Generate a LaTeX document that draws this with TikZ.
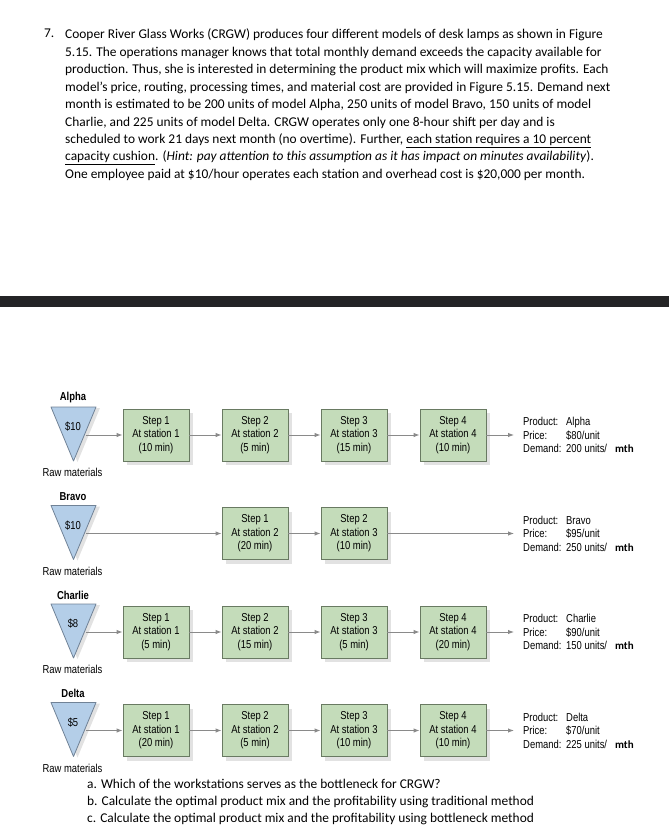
\documentclass[tikz,border=0pt]{standalone}
\usepackage{fontspec}
\setmainfont{Carlito}
\newfontfamily\narrowfont[FakeStretch=0.82]{Liberation Sans}
\usepackage{tikz}
\usetikzlibrary{arrows.meta, positioning, shadows}
\definecolor{boxfill}{RGB}{196,220,186}
\definecolor{boxline}{RGB}{105,122,98}
\definecolor{trifill}{RGB}{180,206,232}
\definecolor{triline}{RGB}{112,130,150}
\definecolor{shadowgray}{RGB}{226,226,226}
\definecolor{flowgray}{RGB}{138,138,138}
\definecolor{barcolor}{RGB}{36,36,38}

\begin{document}
\begin{tikzpicture}[x=1pt, y=-1pt,
    para/.style={inner sep=0pt, align=left, font=\fontsize{13.4}{17.4}\selectfont},
    stepbox/.style={draw=boxline, fill=boxfill, line width=0.8pt, minimum width=66pt, minimum height=52pt,
        inner sep=0pt, align=center, font=\narrowfont\fontsize{11.5}{13.5}\selectfont,
        general shadow={fill=shadowgray, shadow xshift=4pt, shadow yshift=-4pt}},
    tri/.style={draw=triline, fill=trifill, line width=0.8pt, line join=round},
    lab/.style={inner sep=0pt, font=\narrowfont\fontsize{11.5}{13.5}\selectfont},
    outbox/.style={inner xsep=9pt, inner ysep=0pt, align=left, font=\narrowfont\fontsize{11.5}{13.5}\selectfont},
    flow/.style={draw=flowgray, line width=1pt, ->, >={Latex[length=6pt,width=4.5pt]}}]
    \useasboundingbox (0,0) rectangle (669,834);

    \node[para, anchor=north west] (num) at (44,29) {7.};
    \node[para, anchor=north west] (body) at (65,29) {Cooper River Glass Works (CRGW) produces four different models of desk lamps as shown in Figure\\
        5.15. The operations manager knows that total monthly demand exceeds the capacity available for\\
        production. Thus, she is interested in determining the product mix which will maximize profits. Each\\
        model’s price, routing, processing times, and material cost are provided in Figure 5.15. Demand next\\
        month is estimated to be 200 units of model Alpha, 250 units of model Bravo, 150 units of model\\
        Charlie, and 225 units of model Delta. CRGW operates only one 8-hour shift per day and is\\
        scheduled to work 21 days next month (no overtime). Further, \underline{each station requires a 10 percent}\\
        \underline{capacity cushion}. (\textit{Hint: pay attention to this assumption as it has impact on minutes availability}).\\
        One employee paid at \$10/hour operates each station and overhead cost is \$20,000 per month.};

    \fill[barcolor] (0,296) rectangle (669,307);

    % Alpha
    \fill[shadowgray] (55,408) -- (100,408) -- (77.5,462) -- cycle;
    \draw[tri] (51,407) -- (96,407) -- (73.5,461) -- cycle;
    \node[lab, font=\narrowfont\bfseries\fontsize{11.5}{13.5}\selectfont] (nameA) at (73,398) {Alpha};
    \node[lab] (costA) at (73,427) {\$10};
    \node[lab] (rawA) at (72.5,472.5) {Raw materials};
    \coordinate (srcA) at (86,435);
    \node[stepbox] (a1) at (156,435) {Step 1\\At station 1\\(10 min)};
    \node[stepbox] (a2) at (255,435) {Step 2\\At station 2\\(5 min)};
    \node[stepbox] (a3) at (354,435) {Step 3\\At station 3\\(15 min)};
    \node[stepbox] (a4) at (453,435) {Step 4\\At station 4\\(10 min)};
    \node[outbox, anchor=west] (outA) at (514,435) {\makebox[43pt][l]{Product:}Alpha\\\makebox[43pt][l]{Price:}\$80/unit\\\makebox[43pt][l]{Demand:}200 units/\hspace{8pt}{\rmfamily\bfseries\fontsize{11}{13}\selectfont mth}};
    \draw[flow] (srcA) -- (a1);
    \draw[flow] (a1) -- (a2);
    \draw[flow] (a2) -- (a3);
    \draw[flow] (a3) -- (a4);
    \draw[flow] (a4) -- (outA.west);

    % Bravo
    \fill[shadowgray] (55,506.5) -- (100,506.5) -- (77.5,560.5) -- cycle;
    \draw[tri] (51,505.5) -- (96,505.5) -- (73.5,559.5) -- cycle;
    \node[lab, font=\narrowfont\bfseries\fontsize{11.5}{13.5}\selectfont] (nameB) at (73,496.5) {Bravo};
    \node[lab] (costB) at (73,525.5) {\$10};
    \node[lab] (rawB) at (72.5,571) {Raw materials};
    \coordinate (srcB) at (86,533.5);
    \node[stepbox] (b1) at (255,533.5) {Step 1\\At station 2\\(20 min)};
    \node[stepbox] (b2) at (354,533.5) {Step 2\\At station 3\\(10 min)};
    \node[outbox, anchor=west] (outB) at (514,533.5) {\makebox[43pt][l]{Product:}Bravo\\\makebox[43pt][l]{Price:}\$95/unit\\\makebox[43pt][l]{Demand:}250 units/\hspace{8pt}{\rmfamily\bfseries\fontsize{11}{13}\selectfont mth}};
    \draw[flow] (srcB) -- (b1);
    \draw[flow] (b1) -- (b2);
    \draw[flow] (b2) -- (outB.west);

    % Charlie
    \fill[shadowgray] (55,605) -- (100,605) -- (77.5,659) -- cycle;
    \draw[tri] (51,604) -- (96,604) -- (73.5,658) -- cycle;
    \node[lab, font=\narrowfont\bfseries\fontsize{11.5}{13.5}\selectfont] (nameC) at (73,595) {Charlie};
    \node[lab] (costC) at (73,624) {\$8};
    \node[lab] (rawC) at (72.5,669.5) {Raw materials};
    \coordinate (srcC) at (86,632);
    \node[stepbox] (c1) at (156,632) {Step 1\\At station 1\\(5 min)};
    \node[stepbox] (c2) at (255,632) {Step 2\\At station 2\\(15 min)};
    \node[stepbox] (c3) at (354,632) {Step 3\\At station 3\\(5 min)};
    \node[stepbox] (c4) at (453,632) {Step 4\\At station 4\\(20 min)};
    \node[outbox, anchor=west] (outC) at (514,632) {\makebox[43pt][l]{Product:}Charlie\\\makebox[43pt][l]{Price:}\$90/unit\\\makebox[43pt][l]{Demand:}150 units/\hspace{8pt}{\rmfamily\bfseries\fontsize{11}{13}\selectfont mth}};
    \draw[flow] (srcC) -- (c1);
    \draw[flow] (c1) -- (c2);
    \draw[flow] (c2) -- (c3);
    \draw[flow] (c3) -- (c4);
    \draw[flow] (c4) -- (outC.west);

    % Delta
    \fill[shadowgray] (55,703.5) -- (100,703.5) -- (77.5,757.5) -- cycle;
    \draw[tri] (51,702.5) -- (96,702.5) -- (73.5,756.5) -- cycle;
    \node[lab, font=\narrowfont\bfseries\fontsize{11.5}{13.5}\selectfont] (nameD) at (73,693.5) {Delta};
    \node[lab] (costD) at (73,722.5) {\$5};
    \node[lab] (rawD) at (72.5,768) {Raw materials};
    \coordinate (srcD) at (86,730.5);
    \node[stepbox] (d1) at (156,730.5) {Step 1\\At station 1\\(20 min)};
    \node[stepbox] (d2) at (255,730.5) {Step 2\\At station 2\\(5 min)};
    \node[stepbox] (d3) at (354,730.5) {Step 3\\At station 3\\(10 min)};
    \node[stepbox] (d4) at (453,730.5) {Step 4\\At station 4\\(10 min)};
    \node[outbox, anchor=west] (outD) at (514,730.5) {\makebox[43pt][l]{Product:}Delta\\\makebox[43pt][l]{Price:}\$70/unit\\\makebox[43pt][l]{Demand:}225 units/\hspace{8pt}{\rmfamily\bfseries\fontsize{11}{13}\selectfont mth}};
    \draw[flow] (srcD) -- (d1);
    \draw[flow] (d1) -- (d2);
    \draw[flow] (d2) -- (d3);
    \draw[flow] (d3) -- (d4);
    \draw[flow] (d4) -- (outD.west);

    \node[para, anchor=north west] (quest) at (87,778.5) {a. Which of the workstations serves as the bottleneck for CRGW?\\
        b. Calculate the optimal product mix and the profitability using traditional method\\
        c. Calculate the optimal product mix and the profitability using bottleneck method};
\end{tikzpicture}
\end{document}
